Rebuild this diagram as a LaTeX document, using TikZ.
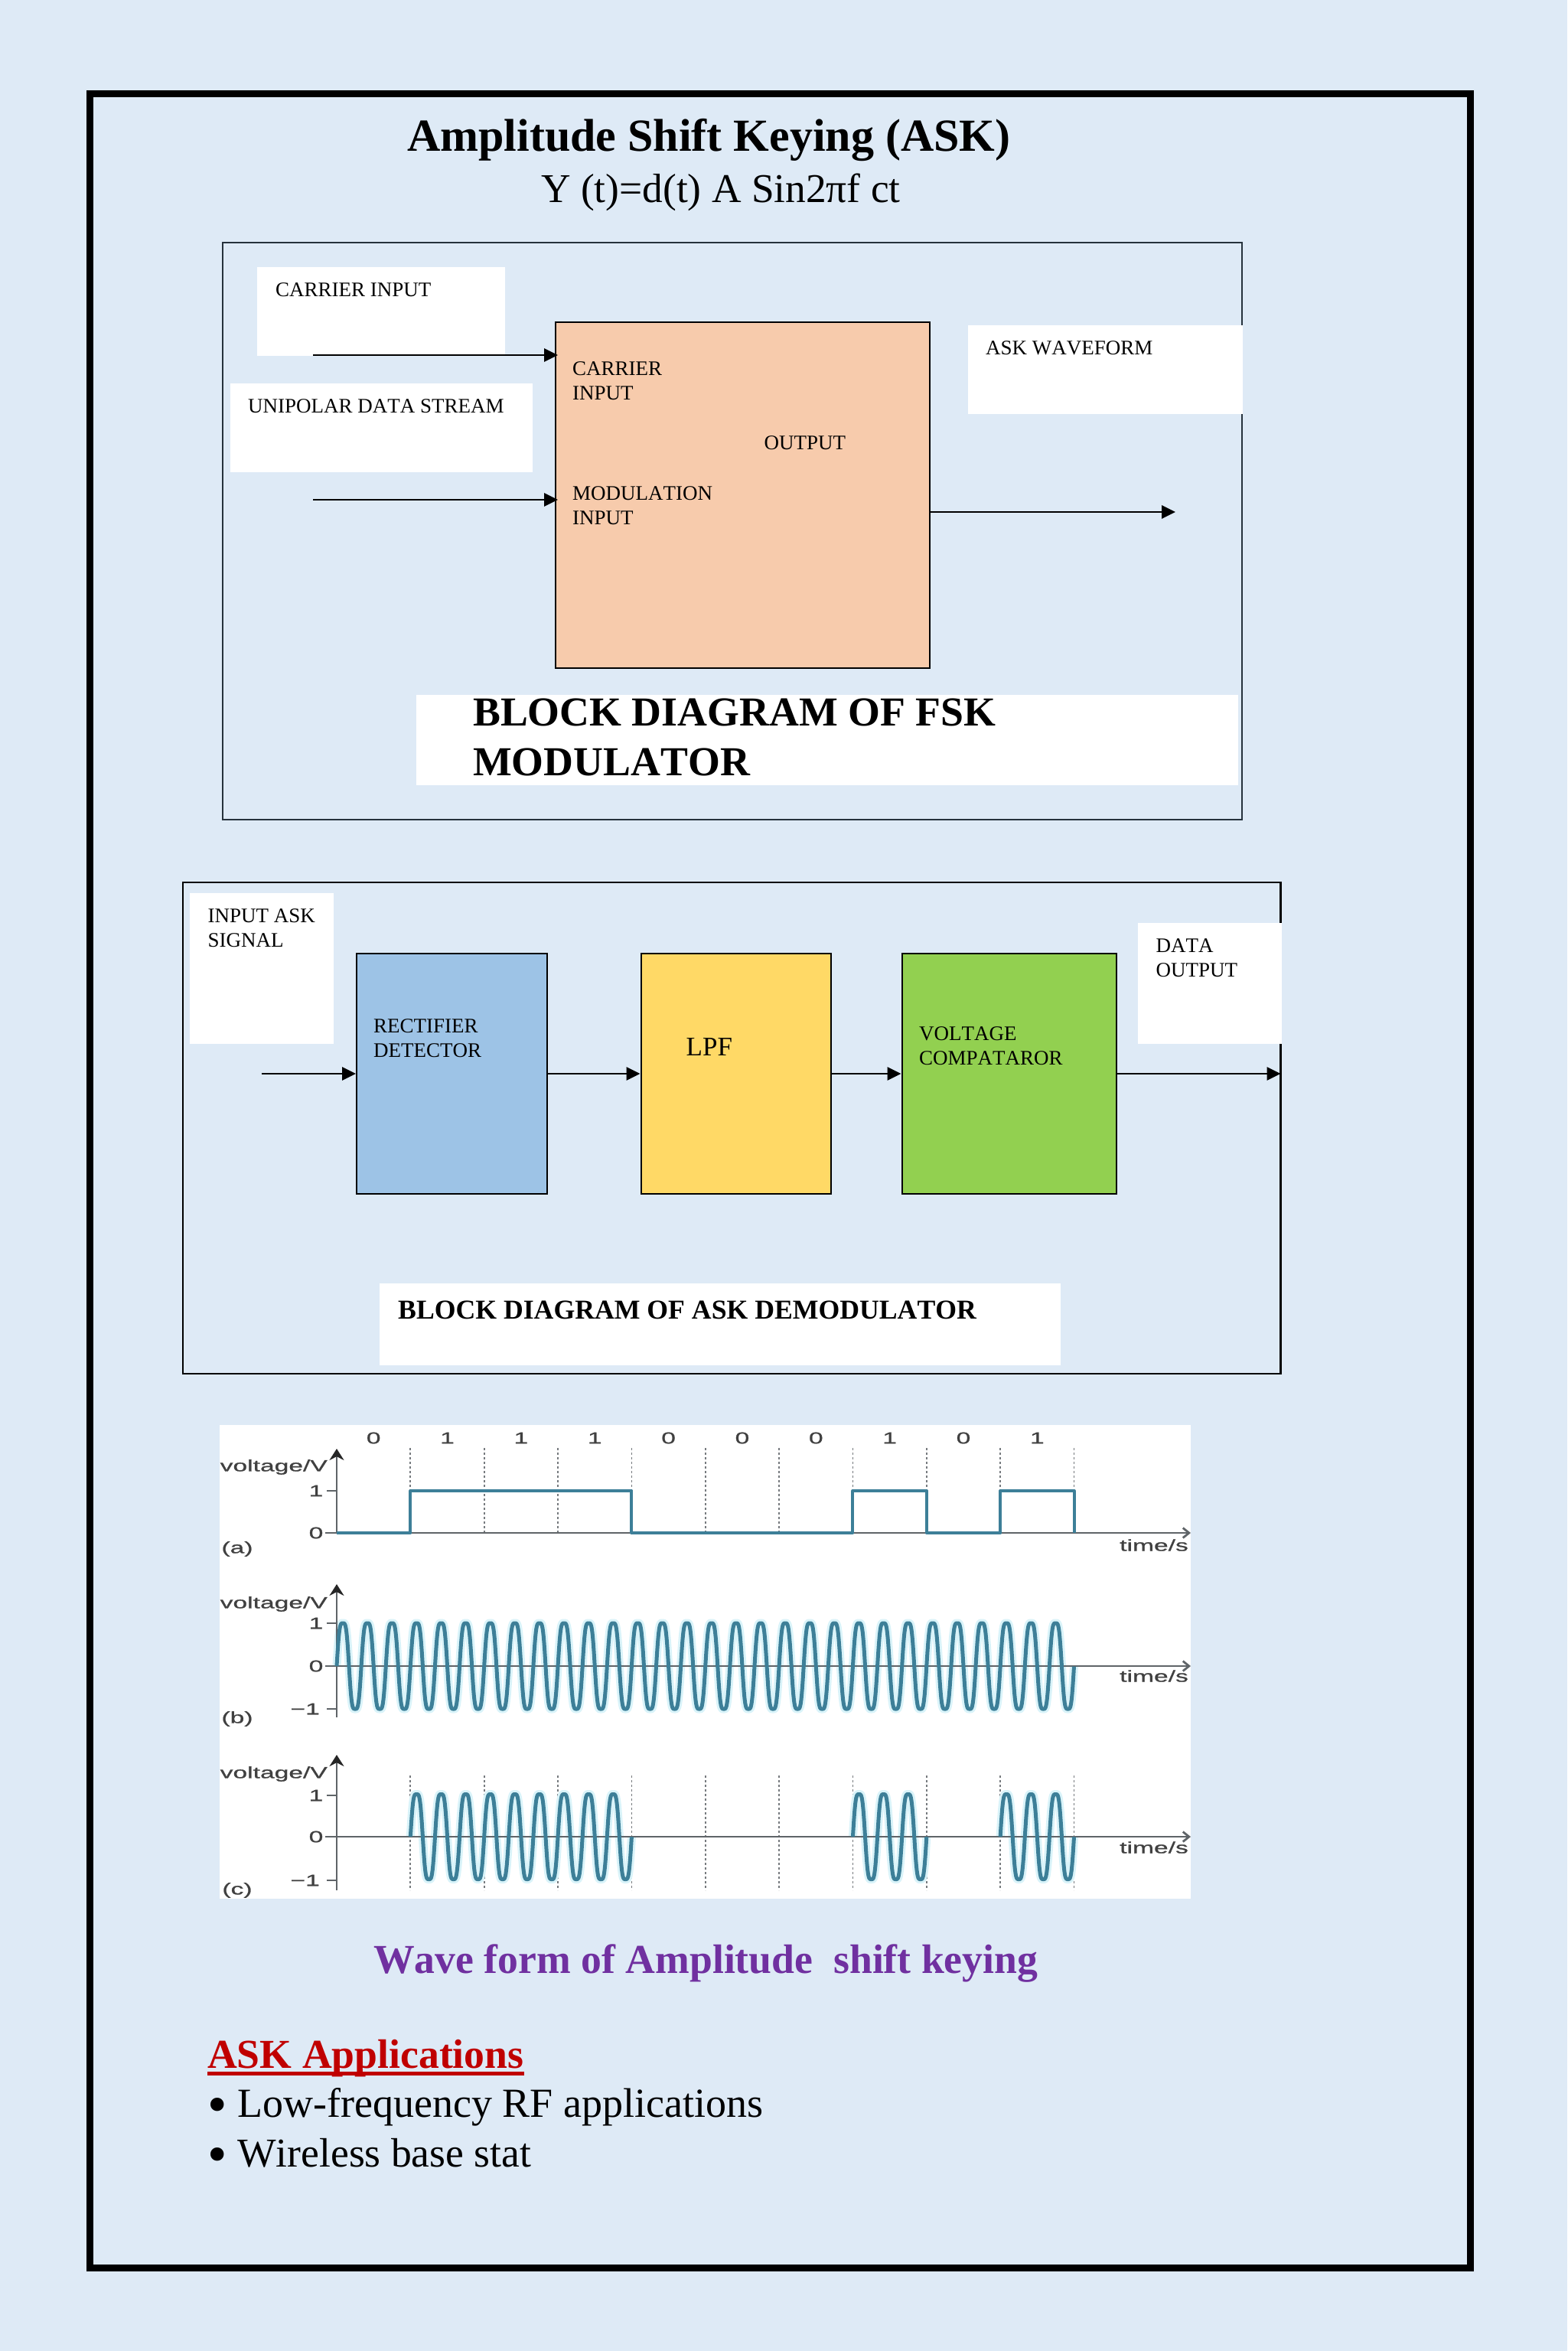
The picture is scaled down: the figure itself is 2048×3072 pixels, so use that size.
\documentclass[tikz,border=0pt]{standalone}
\usepackage{fontspec}
\setmainfont[Kerning=Off]{Liberation Serif}
\newfontfamily\plotfont[FakeStretch=1.6,FakeBold=0.9]{Liberation Sans}
\newfontfamily\bulletfont{DejaVu Sans}
\usetikzlibrary{arrows.meta}
\definecolor{pagebg}{HTML}{DEEAF6}
\definecolor{orangeblk}{HTML}{F7CBAC}
\definecolor{blueblk}{HTML}{9DC3E6}
\definecolor{yellowblk}{HTML}{FFD966}
\definecolor{greenblk}{HTML}{92D050}
\definecolor{wavecol}{HTML}{3D7F98}
\definecolor{wavehalo}{HTML}{D9F3F9}
\definecolor{axiscol}{HTML}{5F6468}
\definecolor{violet}{HTML}{7030A0}
\definecolor{redhead}{HTML}{C00000}
\definecolor{framecol}{HTML}{26323C}
\tikzset{
  x=1pt,y=-1pt,
  frameline/.style={draw=framecol,line width=2pt},
  whitepad/.style={fill=white,draw=none},
  blockbox/.style={draw=black,line width=2.4pt,inner sep=0pt,anchor=north west},
  small/.style={anchor=base west,inner sep=0pt,align=left,font=\fontsize{27}{32}\selectfont},
  conn/.style={line width=2.8pt,-{Triangle[length=18pt,width=17pt]}},
  axisline/.style={draw=axiscol,line width=2.8pt},
  vaxis/.style={axisline,-{Stealth[length=15pt,width=19pt,color=black!85]}},
  haxis/.style={axisline,-{Straight Barb[length=8pt,width=13pt]}},
  tick/.style={draw=axiscol,line width=1.8pt},
  bitline/.style={draw=axiscol!85,line width=1.8pt,dash pattern=on 3pt off 3pt},
  wave/.style={draw=wavecol,line width=5pt,line join=round},
  halo/.style={draw=wavehalo,line width=11pt},
  plottext/.style={inner sep=0pt,text=black!75,font=\plotfont\fontsize{21}{24}\selectfont},
  bighead/.style={anchor=base west,inner sep=0pt,font=\fontsize{54}{65}\selectfont},
  bulletmark/.style={anchor=base west,inner sep=0pt,font=\bulletfont\fontsize{60}{64}\selectfont},
  declare function={sv(\t)=sin(11.209*(\t-440)); ampl(\t)=sv(\t)*(1.5-0.5*sv(\t)*sv(\t));}
}
\newcommand{\carrierplot}[3]{%
  \draw[halo] plot[domain=#1:#2,samples=#3,variable=\t] ({\t},{\zeroy-\ampy*ampl(\t)});
}
\newcommand{\carrierline}[3]{%
  \draw[wave] plot[domain=#1:#2,samples=#3,variable=\t] ({\t},{\zeroy-\ampy*ampl(\t)});
}
\begin{document}
\begin{tikzpicture}
\useasboundingbox (0,0) rectangle (2048,3072);
\fill[pagebg] (0,0) rectangle (2048,3072);
\draw[black,line width=9pt] (117,122.5) rectangle (1921.5,2963.5);

% headings
\node[anchor=base west,inner sep=0pt,font=\fontsize{60}{70}\selectfont\bfseries] (title) at (532,198) {Amplitude Shift Keying (ASK)};
\node[anchor=base west,inner sep=0pt,font=\fontsize{53.4}{60}\selectfont] (formula) at (707,264) {Y (t)=d(t) A Sin2πf ct};

% modulator
\draw[frameline] (290.5,316.5) rectangle (1622.5,1071);
\fill[whitepad] (336,349) rectangle (660,465);
\fill[whitepad] (301,500.5) rectangle (696,616.5);
\fill[whitepad] (1265,425) rectangle (1624,540.5);
\fill[whitepad] (544,908) rectangle (1618,1026);
\node[blockbox,fill=orangeblk,minimum width=489pt,minimum height=451.5pt] (mod) at (725,420) {};
\node[small] (tcarrier) at (360,387) {CARRIER INPUT};
\node[small] (tunipolar) at (324,539) {UNIPOLAR DATA STREAM};
\node[small] (twaveform) at (1288,463) {ASK WAVEFORM};
\node[small] (tcin) at (748,522) {CARRIER\\INPUT};
\node[small] (tout) at (998.5,587.5) {OUTPUT};
\node[small] (tmin) at (748,685) {MODULATION\\INPUT};
\node[bighead,font=\fontsize{53.8}{65}\selectfont\bfseries,align=left] (tfsk) at (618,1013) {BLOCK DIAGRAM OF FSK\\MODULATOR};
\coordinate (cin) at (409,464);
\coordinate (min) at (409,653);
\coordinate (mout) at (1536,669);
\draw[conn,shorten >=-4pt] (cin) -- (cin -| mod.west);
\draw[conn,shorten >=-4pt] (min) -- (min -| mod.west);
\draw[conn] (mout -| mod.east) -- (mout);

% demodulator
\draw[frameline,draw=black,line width=2.4pt] (239,1153) rectangle (1673.5,1795);
\fill[whitepad] (248,1167) rectangle (436,1364);
\fill[whitepad] (1487,1205.5) rectangle (1675,1364);
\fill[whitepad] (495.5,1676.5) rectangle (1386,1784);
\node[blockbox,fill=blueblk,minimum width=248.5pt,minimum height=313.5pt] (rect) at (465,1245) {};
\node[blockbox,fill=yellowblk,minimum width=248.5pt,minimum height=313.5pt] (lpf) at (836.5,1245) {};
\node[blockbox,fill=greenblk,minimum width=280pt,minimum height=313.5pt] (comp) at (1177.5,1245) {};
\node[small] (tinask) at (271.5,1237.5) {INPUT ASK\\SIGNAL};
\node[small] (trect) at (488,1381) {RECTIFIER\\DETECTOR};
\node[anchor=base west,inner sep=0pt,font=\fontsize{35}{40}\selectfont] (tlpf) at (896.5,1379) {LPF};
\node[small] (tcomp) at (1201,1391.5) {VOLTAGE\\COMPATAROR};
\node[small] (tdata) at (1510.5,1276.5) {DATA\\OUTPUT};
\node[anchor=base west,inner sep=0pt,font=\fontsize{35.7}{40}\selectfont\bfseries] (tdemod) at (520,1723) {BLOCK DIAGRAM OF ASK DEMODULATOR};
\coordinate (din) at (342,1403);
\coordinate (dout) at (1673.5,1403);
\draw[conn] (din) -- (din -| rect.west);
\draw[conn] (din -| rect.east) -- (din -| lpf.west);
\draw[conn] (din -| lpf.east) -- (din -| comp.west);
\draw[conn] (din -| comp.east) -- (dout);

% waveform panel
\fill[white] (287,1862) rectangle (1556,2481);
\foreach \k [count=\i from 0] in {0,1,1,1,0,0,0,1,0,1}{
  \node[plottext] (bit\i) at ({440+96.35*(\i+0.5)},1879) {\k};
}
\foreach \i in {0,...,9}{
  \draw[bitline] ({536.35+96.35*\i},1892) -- ({536.35+96.35*\i},2003);
  \draw[bitline] ({536.35+96.35*\i},2320) -- ({536.35+96.35*\i},2470);
}
% (a)
\draw[vaxis] (440,2003) -- (440,1893);
\draw[haxis] (425,2003) -- (1556,2003);
\draw[tick] (427,1948) -- (440,1948);
\draw[wave,line width=4pt] (440,2003) -- (536.35,2003) -- (536.35,1948) -- (825.4,1948) -- (825.4,2003) -- (1114.45,2003) -- (1114.45,1948) -- (1210.8,1948) -- (1210.8,2003) -- (1307.15,2003) -- (1307.15,1948) -- (1403.5,1948) -- (1403.5,2003);
\node[plottext,anchor=east] (va) at (428,1917) {voltage/V};
\node[plottext] (one1) at (413,1948) {1};
\node[plottext] (zero1) at (413,2003) {0};
\node[plottext] (la) at (310,2024) {(a)};
\node[plottext,anchor=east] (ta) at (1553,2019) {time/s};
% (b)
\def\zeroy{2177}\def\ampy{56}
\carrierplot{440}{1403.5}{1501}
\draw[vaxis] (440,2244) -- (440,2070);
\draw[haxis] (425,2177) -- (1556,2177);
\draw[tick] (427,2121) -- (440,2121);
\draw[tick] (427,2233) -- (440,2233);
\carrierline{440}{1403.5}{1501}
\node[plottext,anchor=east] (vb) at (428,2096) {voltage/V};
\node[plottext] (one2) at (413,2121) {1};
\node[plottext] (zero2) at (413,2177) {0};
\node[plottext,anchor=east] (mone2) at (418,2233) {−1};
\node[plottext] (lb) at (310,2246) {(b)};
\node[plottext,anchor=east] (tb) at (1553,2190) {time/s};
% (c)
\def\zeroy{2400}\def\ampy{55.5}
\carrierplot{536.35}{825.4}{451}
\carrierplot{1114.45}{1210.8}{151}
\carrierplot{1307.15}{1403.5}{151}
\draw[vaxis] (440,2470) -- (440,2293);
\draw[haxis] (425,2400) -- (1556,2400);
\draw[tick] (427,2346) -- (440,2346);
\draw[tick] (427,2457) -- (440,2457);
\carrierline{536.35}{825.4}{451}
\carrierline{1114.45}{1210.8}{151}
\carrierline{1307.15}{1403.5}{151}
\node[plottext,anchor=east] (vc) at (428,2318) {voltage/V};
\node[plottext] (one3) at (413,2346) {1};
\node[plottext] (zero3) at (413,2400) {0};
\node[plottext,anchor=east] (mone3) at (418,2457) {−1};
\node[plottext] (lc) at (310,2470) {(c)};
\node[plottext,anchor=east] (tc) at (1553,2414) {time/s};

% footer
\node[bighead,text=violet,font=\fontsize{53.7}{60}\selectfont\bfseries] (wave) at (488,2578) {Wave form of Amplitude\ \ shift keying};
\node[bighead,text=redhead,font=\fontsize{53.7}{60}\selectfont\bfseries] (appl) at (271,2702) {ASK Applications};
\coordinate (ulL) at (271,2709.5);
\coordinate (ulR) at (684.6,2709.5);
\draw[redhead,line width=4.8pt] (ulL) -- (ulR);
\node[bulletmark] (b1) at (266,2772) {•};
\node[bulletmark] (b2) at (266,2837) {•};
\node[bighead] (l1) at (310,2766.5) {Low-frequency RF applications};
\node[bighead,font=\fontsize{53.6}{65}\selectfont] (l2) at (310,2831.5) {Wireless base stat};
\end{tikzpicture}
\end{document}
